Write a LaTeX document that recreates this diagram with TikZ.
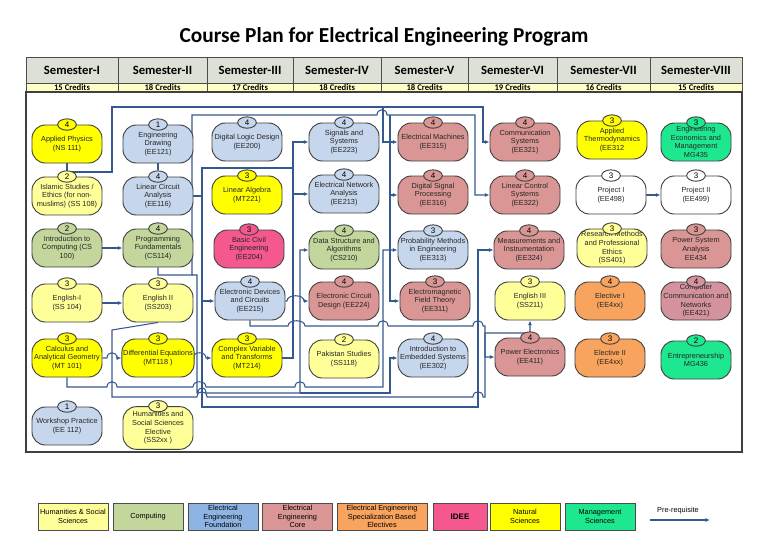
\documentclass[tikz,border=0pt]{standalone}
\usepackage{fontspec}
\setmainfont{Liberation Sans}
\newfontfamily\hdrfont{Carlito}
\usetikzlibrary{shapes.geometric,arrows.meta}
\pgfdeclarelayer{bg}
\pgfsetlayers{bg,main}

\definecolor{hss}{HTML}{FFFF99}
\definecolor{comp}{HTML}{C3D69B}
\definecolor{eef}{HTML}{C6D6EC}
\definecolor{eefleg}{HTML}{8EB4E3}
\definecolor{eec}{HTML}{D99694}
\definecolor{ccnfill}{HTML}{D4939C}
\definecolor{elec}{HTML}{F8A45E}
\definecolor{idee}{HTML}{F5578F}
\definecolor{nat}{HTML}{FFFF00}
\definecolor{mgmt}{HTML}{1EE88F}
\definecolor{wire}{HTML}{35598F}
\definecolor{hdrgray}{HTML}{DDE0D5}
\definecolor{hdryel}{HTML}{FFFFC5}

\begin{document}
\begin{tikzpicture}[x=0.75pt, y=-0.75pt,
  font=\fontsize{5.5}{6.5}\selectfont,
  crs/.style={draw=black!75, line width=0.7pt, rounded corners=10pt,
              minimum width=52.5pt, minimum height=28.5pt, inner sep=1pt,
              align=center, text=black!85},
  bdg/.style={ellipse, draw=black!75, line width=0.7pt, minimum width=14pt,
              minimum height=8.5pt, inner sep=0pt, font=\fontsize{6}{6}\selectfont},
  leg/.style={draw=black!70, line width=0.7pt, minimum width=52.5pt,
              minimum height=20.25pt, inner sep=1pt, align=center},
  sem/.style={font=\hdrfont\bfseries\fontsize{9.5}{10}\selectfont},
  crd/.style={font=\hdrfont\bfseries\fontsize{6.5}{7}\selectfont},
  pre/.style={draw=wire, line width=0.8pt, -{Latex[length=3.5pt,width=3pt]}},
  wr/.style={draw=wire, line width=0.8pt},
  hop/.style={insert path={.. controls +(0,-7) and +(0,-7) .. ++(#1,0)}},
]
\useasboundingbox (0,0) rectangle (768,543);

% title and semester table
\node[font=\hdrfont\bfseries\fontsize{16}{18}\selectfont] (title) at (384,37)
  {Course Plan for Electrical Engineering Program};
\foreach \xl/\xr/\sn/\cr in {26/118/I/15, 118/207/II/18, 207/293/III/17,
    293/381/IV/18, 381/468/V/18, 468/557/VI/19, 557/650/VII/16, 650/742/VIII/15} {
  \draw[black!70, fill=hdrgray] (\xl,57) rectangle (\xr,83);
  \draw[black!70, fill=hdryel] (\xl,83) rectangle (\xr,92);
  \node[sem] (s\sn) at ({(\xl+\xr)/2},70) {Semester-\sn};
  \node[crd] (c\sn) at ({(\xl+\xr)/2},87.5) {\cr\ Credits};
}
\draw[black!75, line width=0.8pt] (26,92) rectangle (742,452);

% semester I
\node[crs, fill=nat] (ap) at (67,144) {Applied Physics\\(NS 111)};
\node[bdg, fill=nat] (ap-c) at (ap.north) {4};
\node[crs, fill=hss] (isl) at (67,196) {Islamic Studies /\\Ethics (for non-\\muslims) (SS 108)};
\node[bdg, fill=hss] (isl-c) at (isl.north) {2};
\node[crs, fill=comp] (itc) at (67,248) {Introduction to\\Computing (CS\\100)};
\node[bdg, fill=comp] (itc-c) at (itc.north) {2};
\node[crs, fill=hss] (eng1) at (67,303) {English-I\\(SS 104)};
\node[bdg, fill=hss] (eng1-c) at (eng1.north) {3};
\node[crs, fill=nat] (calc) at (67,358) {Calculus and\\Analytical Geometry\\(MT 101)};
\node[bdg, fill=nat] (calc-c) at (calc.north) {3};
\node[crs, fill=eef] (wp) at (67,426) {Workshop Practice\\(EE 112)};
\node[bdg, fill=eef] (wp-c) at (wp.north) {1};

% semester II
\node[crs, fill=eef] (ed) at (158,144) {Engineering\\Drawing\\(EE121)};
\node[bdg, fill=eef] (ed-c) at (ed.north) {1};
\node[crs, fill=eef] (lca) at (158,196) {Linear Circuit\\Analysis\\(EE116)};
\node[bdg, fill=eef] (lca-c) at (lca.north) {4};
\node[crs, fill=comp] (pf) at (158,248) {Programming\\Fundamentals\\(CS114)};
\node[bdg, fill=comp] (pf-c) at (pf.north) {4};
\node[crs, fill=hss] (eng2) at (158,303) {English II\\(SS203)};
\node[bdg, fill=hss] (eng2-c) at (eng2.north) {3};
\node[crs, fill=nat] (de) at (158,358) {Differential Equations\\(MT118 )};
\node[bdg, fill=nat] (de-c) at (de.north) {3};
\node[crs, fill=hss, minimum height=32pt] (hum) at (158,428) {Humanities and\\Social Sciences\\Elective\\(SS2xx )};
\node[bdg, fill=hss] (hum-c) at (hum.north) {3};

% semester III
\node[crs, fill=eef] (dld) at (247,142) {Digital Logic Design\\(EE200)};
\node[bdg, fill=eef] (dld-c) at (dld.north) {4};
\node[crs, fill=nat] (la) at (247,195) {Linear Algebra\\(MT221)};
\node[bdg, fill=nat] (la-c) at (la.north) {3};
\node[crs, fill=idee] (bce) at (249,249) {Basic Civil\\Engineering\\(EE204)};
\node[bdg, fill=idee] (bce-c) at (bce.north) {3};
\node[crs, fill=eef] (edc) at (250,301) {Electronic Devices\\and Circuits\\(EE215)};
\node[bdg, fill=eef] (edc-c) at (edc.north) {4};
\node[crs, fill=nat] (cv) at (247,358) {Complex Variable\\and Transforms\\(MT214)};
\node[bdg, fill=nat] (cv-c) at (cv.north) {3};

% semester IV
\node[crs, fill=eef] (ss) at (344,142) {Signals and\\Systems\\(EE223)};
\node[bdg, fill=eef] (ss-c) at (ss.north) {4};
\node[crs, fill=eef] (ena) at (344,194) {Electrical Network\\Analysis\\(EE213)};
\node[bdg, fill=eef] (ena-c) at (ena.north) {4};
\node[crs, fill=comp] (dsa) at (344,250) {Data Structure and\\Algorithms\\(CS210)};
\node[bdg, fill=comp] (dsa-c) at (dsa.north) {4};
\node[crs, fill=eec] (ecd) at (344,301) {Electronic Circuit\\Design (EE224)};
\node[bdg, fill=eec] (ecd-c) at (ecd.north) {4};
\node[crs, fill=hss] (pst) at (344,359) {Pakistan Studies\\(SS118)};
\node[bdg, fill=hss] (pst-c) at (pst.north) {2};

% semester V
\node[crs, fill=eec] (em) at (433,142) {Electrical Machines\\(EE315)};
\node[bdg, fill=eec] (em-c) at (em.north) {4};
\node[crs, fill=eec] (dsp) at (433,195) {Digital Signal\\Processing\\(EE316)};
\node[bdg, fill=eec] (dsp-c) at (dsp.north) {4};
\node[crs, fill=eef] (pme) at (433,250) {Probability Methods\\in Engineering\\(EE313)};
\node[bdg, fill=eef] (pme-c) at (pme.north) {3};
\node[crs, fill=eec] (emf) at (435,301) {Electromagnetic\\Field Theory\\(EE311)};
\node[bdg, fill=eec] (emf-c) at (emf.north) {3};
\node[crs, fill=eef] (ies) at (433,358) {Introduction to\\Embedded Systems\\(EE302)};
\node[bdg, fill=eef] (ies-c) at (ies.north) {4};

% semester VI
\node[crs, fill=eec] (cs) at (525,142) {Communication\\Systems\\(EE321)};
\node[bdg, fill=eec] (cs-c) at (cs.north) {4};
\node[crs, fill=eec] (lcs) at (525,195) {Linear Control\\Systems\\(EE322)};
\node[bdg, fill=eec] (lcs-c) at (lcs.north) {4};
\node[crs, fill=eec] (mi) at (529,250) {Measurements and\\Instrumentation\\(EE324)};
\node[bdg, fill=eec] (mi-c) at (mi.north) {4};
\node[crs, fill=hss] (eng3) at (530,301) {English III\\(SS211)};
\node[bdg, fill=hss] (eng3-c) at (eng3.north) {3};
\node[crs, fill=eec] (pe) at (530,357) {Power Electronics\\(EE411)};
\node[bdg, fill=eec] (pe-c) at (pe.north) {4};

% semester VII
\node[crs, fill=nat] (at) at (612,140) {Applied\\Thermodynamics\\(EE312};
\node[bdg, fill=nat] (at-c) at (at.north) {3};
\node[crs, fill=white] (p1) at (611,195) {Project I\\(EE498)};
\node[bdg, fill=white] (p1-c) at (p1.north) {3};
\node[crs, fill=hss] (rm) at (612,248) {Research Methods\\and Professional\\Ethics\\(SS401)};
\node[bdg, fill=hss] (rm-c) at (rm.north) {3};
\node[crs, fill=elec] (el1) at (610,301) {Elective I\\(EE4xx)};
\node[bdg, fill=elec] (el1-c) at (el1.north) {4};
\node[crs, fill=elec] (el2) at (610,358) {Elective II\\(EE4xx)};
\node[bdg, fill=elec] (el2-c) at (el2.north) {3};

% semester VIII
\node[crs, fill=mgmt] (eem) at (696,142) {Engineering\\Economics and\\Management\\MG435};
\node[bdg, fill=mgmt] (eem-c) at (eem.north) {3};
\node[crs, fill=white] (p2) at (696,195) {Project II\\(EE499)};
\node[bdg, fill=white] (p2-c) at (p2.north) {3};
\node[crs, fill=eec] (psa) at (696,249) {Power System\\Analysis\\EE434};
\node[bdg, fill=eec] (psa-c) at (psa.north) {3};
\node[crs, fill=ccnfill] (ccn) at (696,301) {Computer\\Communication and\\Networks\\(EE421)};
\node[bdg, fill=ccnfill] (ccn-c) at (ccn.north) {4};
\node[crs, fill=mgmt] (ent) at (696,360) {Entrepreneurship\\MG436};
\node[bdg, fill=mgmt] (ent-c) at (ent.north) {2};

% prerequisites (behind the course boxes)
\begin{pgfonlayer}{bg}
\draw[pre] (itc.east) -- (pf.west);
\draw[pre] (eng1.east) -- (eng2.west);
\draw[pre] (calc.east) -- (107,358) [hop=10] -- (de.west);
\draw[pre] (de.east) -- (193,358) [hop=13] -- (cv.west);
\draw[pre] (p1.east) -- (p2.west);
\draw[wr] (ed.south) -- (lca-c.north);
% applied physics
\draw[pre] (ap.south) |- (112,172) |- (483,107) |- (cs.west);
\coordinate (jem) at (383,107);
\draw[pre] (jem) |- (em.west);
% programming fundamentals
\draw[pre] (pf.south) |- (192,275) -- (192,115) -- (377,115) [hop=10] -- (475,115) |- (lcs.west);
\coordinate (jdsp) at (390,115);
\draw[pre] (jdsp) |- (dsp.west);
\coordinate (jemf) at (390,195);
\draw[pre] (jemf) |- (emf.west);
\coordinate (jpf) at (192,275);
\draw[pre] (jpf) -- (197,275) -- (197,393) -- (198,393) [hop=8] -- (300,393) |- (dsa.west);
\coordinate (jies) at (300,393);
\draw[pre] (jies) -- (390,393) |- (ies.west);
% linear circuit analysis
\draw[pre] (lca.east) -- (202,196) |- (edc.west);
\draw[pre] (202,196) |- (293,168) |- (ena.west);
\coordinate (jlca) at (202,301);
\draw[pre] (jlca) |- (478,407) |- (mi.west);
% complex variables
\draw[pre] (cv.east) -| (293,142) -- (ss.west);
% electronic devices
\draw[pre] (edc.east) -- (287,301) [hop=17] -- (ecd.west);
\draw[pre] (edc.south) |- (288,326) [hop=17] -- (378,326) [hop=10] -- (473,326) [hop=10] -- (485,326) |- (pe.west);
% calculus
\draw[pre] (calc.south) |- (107,387) [hop=10] -- (193,387) [hop=13] -- (295,387) [hop=10] -- (383,387) |- (pme.west);
% english
\draw[pre] (eng2.south) -- (112,330) -- (112,397) -- (197,397) [hop=10] -- (473,397) [hop=10] -- (485,397) -- (485,333) -| (eng3.south);
\end{pgfonlayer}

% legend
\node[leg, fill=hss] (lg1) at (73,516.5) {Humanities \& Social\\Sciences};
\node[leg, fill=comp] (lg2) at (148,516.5) {Computing};
\node[leg, fill=eefleg] (lg3) at (223,516.5) {Electrical\\Engineering\\Foundation};
\node[leg, fill=eec] (lg4) at (297.5,516.5) {Electrical\\Engineering\\Core};
\node[leg, fill=elec, minimum width=67.5pt] (lg5) at (382,516.5) {Electrical Engineering\\Specialization Based\\Electives};
\node[leg, fill=idee, minimum width=40.5pt, font=\fontsize{6}{7}\selectfont\bfseries] (lg6) at (460,516.5) {IDEE};
\node[leg, fill=nat] (lg7) at (525,516.5) {Natural\\Sciences};
\node[leg, fill=mgmt] (lg8) at (600,516.5) {Management\\Sciences};
\node (prq) at (678,511) {Pre-requisite};
\coordinate (pa) at (650,520);
\coordinate (pb) at (710,520);
\draw[pre] (pa) -- (pb);
\end{tikzpicture}
\end{document}
